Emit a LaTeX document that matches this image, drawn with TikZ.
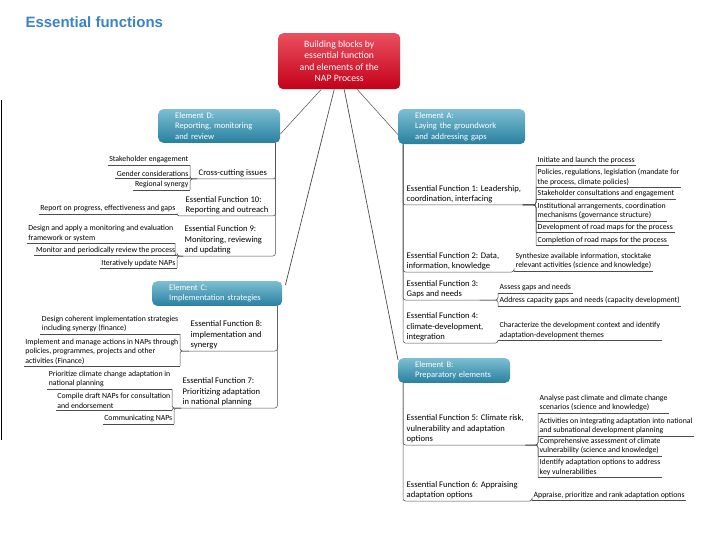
\documentclass[tikz,border=0pt]{standalone}
\usepackage{fontspec}
\setmainfont{Carlito}
\newfontfamily\titlefont{Liberation Sans}
\definecolor{eltop}{RGB}{125,190,210}
\definecolor{elbot}{RGB}{40,128,160}
\definecolor{rttop}{RGB}{235,80,95}
\definecolor{rtbot}{RGB}{195,0,25}
\definecolor{ttl}{RGB}{60,130,200}
\begin{document}
\begin{tikzpicture}[x=1pt,y=-1pt,
  ln/.style={draw=black!70,line width=0.5pt},
  rc/.style={ln,rounded corners=2.5pt},
  elem/.style={rounded corners=5pt,draw=none,top color=eltop,bottom color=elbot,text=white,font=\fontsize{8.5}{10.3}\selectfont,align=left,inner xsep=17pt,inner ysep=3.5pt,text width=#1,anchor=north west},
  root/.style={rounded corners=5pt,draw=none,top color=rttop,bottom color=rtbot,text=white,font=\fontsize{9.7}{11.3}\selectfont,align=center,minimum width=122pt,minimum height=56pt,anchor=north west},
  ef/.style={font=\fontsize{8.6}{10.5}\selectfont,align=left,inner sep=1.5pt},
  leaf/.style={font=\fontsize{7.8}{9.6}\selectfont,align=left,inner sep=1.5pt},
  leafL/.style={leaf,anchor=south east},
  leafR/.style={leaf,anchor=south west},
  efL/.style={ef,anchor=south west},
]
\useasboundingbox (0,0) rectangle (720,540);
\node[anchor=west,text=ttl,font=\titlefont\bfseries\fontsize{15}{17}\selectfont] (title) at (22,22) {Essential functions};
\coordinate (lt) at (1,100); \coordinate (lb) at (1,440);
\draw[line width=1pt] (lt) -- (lb);

\node[root] (root) at (278,33) {Building blocks by\\essential function\\and elements of the\\NAP Process};
\node[elem=88pt] (D) at (158,109) {Element D:\\Reporting, monitoring\\and review};
\node[elem=93pt] (A) at (398,109) {Element A:\\Laying the groundwork\\and addressing gaps};
\node[elem=96pt] (C) at (152,281) {Element C:\\Implementation strategies};
\node[elem=78pt] (B) at (398,358) {Element B:\\Preparatory elements};

\draw[ln] ([xshift=-18pt]root.south) -- ([yshift=-8pt]D.east);
\draw[ln] ([xshift=18pt]root.south) -- ([yshift=-8pt]A.west);
\draw[ln,line width=0.7pt] ([xshift=-5pt]root.south) -- ([xshift=3pt,yshift=-4pt]C.north east);
\draw[ln,line width=0.7pt] ([xshift=5pt]root.south) -- ([yshift=-2pt]B.north west);

% Element D
\node[efL] (cc) at (197,179) {Cross-cutting issues};
\node[leafL] (l1) at (190,165) {Stakeholder engagement};
\node[leafL] (l2) at (190,178) {Gender considerations};
\node[leafL] (l3) at (190,190) {Regional synergy};
\node[efL] (ef10) at (184,216) {Essential Function 10:\\Reporting and outreach};
\node[leafL] (l4) at (177,214) {Report on progress, effectiveness and gaps};
\node[efL] (ef9) at (183,256) {Essential Function 9:\\Monitoring, reviewing\\and updating};
\node[leafL] (l5) at (175,243) {Design and apply a monitoring and evaluation\\framework or system};
\node[leafL] (l6) at (177,255) {Monitor and periodically review the process};
\node[leafL] (l7) at (177,268) {Iteratively update NAPs};
\foreach \e in {cc,ef10,ef9} \draw[rc] ([xshift=-5pt]D.south east) |- (\e.south west);
\foreach \p/\l in {cc/l1,cc/l2,cc/l3,ef10/l4,ef9/l5,ef9/l6,ef9/l7}
  {\draw[rc] (\p.south west) -| (\l.south east); \draw[ln] (\l.south west) -- (\l.south east);}

% Element C
\node[efL] (ef8) at (189,351) {Essential Function 8:\\implementation and\\synergy};
\node[leafL] (l8) at (180,334) {Design coherent implementation strategies\\including synergy (finance)};
\node[leafL] (l9) at (180,366) {Implement and manage actions in NAPs through\\policies, programmes, projects and other\\activities (Finance)};
\node[efL] (ef7) at (181,408) {Essential Function 7:\\Prioritizing adaptation\\in national planning};
\node[leafL] (l10) at (172,389) {Prioritize climate change adaptation in\\national planning};
\node[leafL] (l11) at (172,410) {Compile draft NAPs for consultation\\and endorsement};
\node[leafL] (l12) at (174,424) {Communicating NAPs};
\foreach \e in {ef8,ef7} \draw[rc] ([xshift=-5pt]C.south east) |- (\e.south west);
\foreach \p/\l in {ef8/l8,ef8/l9,ef7/l10,ef7/l11,ef7/l12}
  {\draw[rc] (\p.south west) -| (\l.south east); \draw[ln] (\l.south west) -- (\l.south east);}

% Element A
\node[efL] (ef1) at (405,205) {Essential Function 1: Leadership,\\coordination, interfacing};
\node[leafR] (r1) at (536,165) {Initiate and launch the process};
\node[leafR] (r2) at (536,187) {Policies, regulations, legislation (mandate for\\the process, climate policies)};
\node[leafR] (r3) at (536,199) {Stakeholder consultations and engagement};
\node[leafR] (r4) at (536,221) {Institutional arrangements, coordination\\mechanisms (governance structure)};
\node[leafR] (r5) at (536,232) {Development of road maps for the process};
\node[leafR] (r6) at (536,245) {Completion of road maps for the process};
\node[efL] (ef2) at (405,272) {Essential Function 2: Data,\\information, knowledge};
\node[leafR] (r7) at (514,271) {Synthesize available information, stocktake\\relevant activities (science and knowledge)};
\node[efL] (ef3) at (405,300) {Essential Function 3:\\Gaps and needs};
\node[leafR] (r8) at (498,293) {Assess gaps and needs};
\node[leafR] (r9) at (498,306) {Address capacity gaps and needs (capacity development)};
\node[efL] (ef4) at (405,343) {Essential Function 4:\\climate-development,\\integration};
\node[leafR] (r10) at (498,340) {Characterize the development context and identify\\adaptation-development themes};
\foreach \e in {ef1,ef2,ef3,ef4} \draw[rc] ([xshift=5pt]A.south west) |- (\e.south east);

% Element B
\node[efL] (ef5) at (405,445) {Essential Function 5: Climate risk,\\vulnerability and adaptation\\options};
\node[leafR] (r11) at (538,413) {Analyse past climate and climate change\\scenarios (science and knowledge)};
\node[leafR] (r12) at (538,436) {Activities on integrating adaptation into national\\and subnational development planning};
\node[leafR] (r13) at (538,456) {Comprehensive assessment of climate\\vulnerability (science and knowledge)};
\node[leafR] (r14) at (538,477) {Identify adaptation options to address\\key vulnerabilities};
\node[efL] (ef6) at (405,501) {Essential Function 6: Appraising\\adaptation options};
\node[leafR] (r15) at (532,500) {Appraise, prioritize and rank adaptation options};
\foreach \e in {ef5,ef6} \draw[rc] ([xshift=5pt]B.south west) |- (\e.south east);

\foreach \p/\l in {ef1/r1,ef1/r2,ef1/r3,ef1/r4,ef1/r5,ef1/r6,ef2/r7,ef3/r8,ef3/r9,ef4/r10,ef5/r11,ef5/r12,ef5/r13,ef5/r14,ef6/r15}
  {\draw[rc] (\p.south east) -| (\l.south west); \draw[ln] (\l.south west) -- (\l.south east);}
\end{tikzpicture}
\end{document}
